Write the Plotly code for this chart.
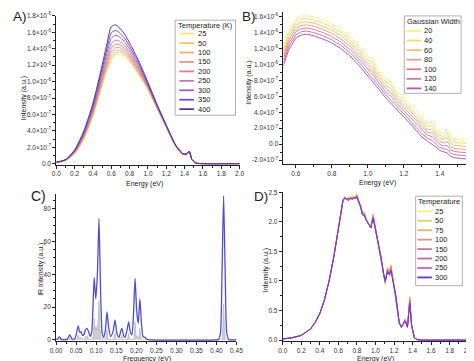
import plotly.graph_objects as go

W, H = 474, 361
FONT = "Liberation Sans, Arial, sans-serif"

# ---------------- Panel A data (Intensity vs Energy, temperatures) ----------------
a_energy = [0.0, 0.1, 0.2, 0.3, 0.4, 0.5, 0.55, 0.6, 0.65, 0.7, 0.75, 0.8, 0.9, 1.0,
            1.1, 1.2, 1.3, 1.34, 1.38, 1.42, 1.45, 1.48, 1.52, 1.6, 2.0]
a_temps = ["25", "50", "100", "150", "200", "250", "300", "350", "400"]
a_25 = [0.010, 0.040, 0.120, 0.300, 0.580, 0.950, 1.120, 1.250, 1.320, 1.330, 1.300, 1.240, 1.080, 0.900,
        0.670, 0.440, 0.220, 0.19, 0.12, 0.110, 0.140, 0.05, 0.01, 0.0, 0.0]
a_50 = [0.011, 0.041, 0.124, 0.308, 0.593, 0.970, 1.146, 1.284, 1.350, 1.355, 1.322, 1.258, 1.094, 0.907,
        0.674, 0.442, 0.221, 0.19, 0.12, 0.110, 0.140, 0.05, 0.01, 0.0, 0.0]
a_100 = [0.012, 0.042, 0.128, 0.316, 0.606, 0.990, 1.173, 1.317, 1.379, 1.380, 1.343, 1.277, 1.107, 0.914,
         0.678, 0.445, 0.222, 0.18, 0.12, 0.110, 0.140, 0.05, 0.01, 0.0, 0.0]
a_150 = [0.013, 0.043, 0.133, 0.326, 0.622, 1.015, 1.206, 1.359, 1.416, 1.411, 1.370, 1.300, 1.124, 0.923,
         0.683, 0.448, 0.223, 0.18, 0.12, 0.110, 0.145, 0.05, 0.01, 0.0, 0.0]
a_200 = [0.014, 0.044, 0.139, 0.337, 0.639, 1.043, 1.242, 1.405, 1.457, 1.445, 1.400, 1.325, 1.143, 0.933,
         0.689, 0.451, 0.224, 0.18, 0.12, 0.115, 0.145, 0.05, 0.01, 0.0, 0.0]
a_250 = [0.015, 0.045, 0.145, 0.350, 0.660, 1.075, 1.285, 1.460, 1.505, 1.485, 1.435, 1.355, 1.165, 0.945,
         0.695, 0.455, 0.225, 0.17, 0.12, 0.115, 0.150, 0.05, 0.01, 0.0, 0.0]
a_300 = [0.017, 0.047, 0.153, 0.366, 0.686, 1.115, 1.338, 1.527, 1.564, 1.535, 1.478, 1.392, 1.192, 0.959,
         0.703, 0.460, 0.226, 0.17, 0.12, 0.120, 0.150, 0.05, 0.01, 0.0, 0.0]
a_350 = [0.018, 0.048, 0.161, 0.382, 0.711, 1.155, 1.391, 1.594, 1.623, 1.584, 1.521, 1.429, 1.219, 0.974,
         0.711, 0.465, 0.228, 0.16, 0.12, 0.120, 0.150, 0.05, 0.01, 0.0, 0.0]
a_400 = [0.020, 0.050, 0.170, 0.400, 0.740, 1.200, 1.450, 1.670, 1.690, 1.640, 1.570, 1.470, 1.250, 0.990,
         0.720, 0.470, 0.230, 0.16, 0.12, 0.120, 0.150, 0.05, 0.01, 0.0, 0.0]
a_series = [a_25, a_50, a_100, a_150, a_200, a_250, a_300, a_350, a_400]
a_colors = ["#f6e87a", "#f2c86a", "#eeb07a", "#e8948a", "#d8808e", "#c07aa8", "#9a60c0", "#7a48b8", "#4c3896"]
a_yticks = [0.0, 0.2, 0.4, 0.6, 0.8, 1.0, 1.2, 1.4, 1.6, 1.8]
a_yticktext = ["0.0", "2.0×10<sup>-7</sup>", "4.0×10<sup>-7</sup>", "6.0×10<sup>-7</sup>", "8.0×10<sup>-7</sup>",
               "1.0×10<sup>-6</sup>", "1.2×10<sup>-6</sup>", "1.4×10<sup>-6</sup>", "1.6×10<sup>-6</sup>",
               "1.8×10<sup>-6</sup>"]

# ---------------- Panel B data (Gaussian width) ----------------
b_energy = [0.53, 0.56, 0.60, 0.63, 0.66, 0.70, 0.75, 0.80, 0.85, 0.90, 0.95, 1.00, 1.03, 1.05, 1.10, 1.13,
            1.15, 1.20, 1.25, 1.30, 1.33, 1.36, 1.38, 1.40, 1.42, 1.44, 1.46, 1.48, 1.52, 1.56, 1.60]
b_widths = ["20", "40", "60", "80", "100", "120", "140"]
b_20 = [1.22, 1.42, 1.57, 1.61, 1.61, 1.60, 1.56, 1.51, 1.44, 1.35, 1.23, 1.10, 1.06, 0.96, 0.82, 0.79,
        0.70, 0.58, 0.46, 0.35, 0.26, 0.28, 0.19, 0.15, 0.13, 0.19, 0.09, 0.06, 0.05, 0.045, 0.045]
b_40 = [1.18, 1.38, 1.53, 1.57, 1.572, 1.56, 1.52, 1.47, 1.40, 1.31, 1.19, 1.06, 1.012, 0.92, 0.78, 0.742,
        0.66, 0.54, 0.42, 0.306, 0.224, 0.232, 0.152, 0.112, 0.092, 0.138, 0.05, 0.022, 0.012, 0.006, 0.006]
b_60 = [1.14, 1.34, 1.49, 1.53, 1.534, 1.52, 1.48, 1.43, 1.36, 1.27, 1.15, 1.02, 0.964, 0.88, 0.74, 0.694,
        0.62, 0.50, 0.38, 0.262, 0.188, 0.184, 0.114, 0.074, 0.054, 0.086, 0.01, -0.016, -0.026, -0.033, -0.033]
b_80 = [1.10, 1.30, 1.45, 1.49, 1.496, 1.48, 1.44, 1.39, 1.32, 1.23, 1.11, 0.98, 0.916, 0.84, 0.70, 0.646,
        0.58, 0.46, 0.34, 0.218, 0.152, 0.136, 0.076, 0.036, 0.016, 0.034, -0.03, -0.054, -0.064, -0.072, -0.072]
b_100 = [1.06, 1.26, 1.41, 1.45, 1.458, 1.44, 1.40, 1.35, 1.28, 1.19, 1.07, 0.94, 0.87, 0.80, 0.66, 0.60,
         0.54, 0.42, 0.30, 0.175, 0.115, 0.09, 0.038, -0.003, -0.023, -0.015, -0.07, -0.093, -0.103, -0.111, -0.111]
b_120 = [1.02, 1.22, 1.37, 1.41, 1.419, 1.40, 1.36, 1.31, 1.24, 1.15, 1.03, 0.90, 0.824, 0.76, 0.62, 0.554,
         0.50, 0.38, 0.26, 0.132, 0.078, 0.044, -0.001, -0.041, -0.061, -0.064, -0.11, -0.131, -0.141, -0.15, -0.15]
b_140 = [0.98, 1.18, 1.33, 1.37, 1.38, 1.36, 1.32, 1.27, 1.20, 1.11, 0.99, 0.86, 0.78, 0.72, 0.58, 0.51,
         0.46, 0.34, 0.22, 0.09, 0.04, 0.00, -0.04, -0.08, -0.10, -0.11, -0.15, -0.17, -0.18, -0.19, -0.19]
b_series = [b_20, b_40, b_60, b_80, b_100, b_120, b_140]
b_colors = ["#f8f080", "#f2dc6c", "#f0c07a", "#e8a08a", "#d88090", "#c878b0", "#a860b8"]
b_yticks = [-0.2, 0.0, 0.2, 0.4, 0.6, 0.8, 1.0, 1.2, 1.4, 1.6]
b_yticktext = ["-2.0×10<sup>-7</sup>", "0.0", "2.0×10<sup>-7</sup>", "4.0×10<sup>-7</sup>", "6.0×10<sup>-7</sup>",
               "8.0×10<sup>-7</sup>", "1.0×10<sup>-6</sup>", "1.2×10<sup>-6</sup>", "1.4×10<sup>-6</sup>",
               "1.6×10<sup>-6</sup>"]

# ---------------- Panel C data (IR spectrum) ----------------
c_freq = [0.000, 0.004, 0.008, 0.012, 0.018, 0.028, 0.034, 0.040, 0.047, 0.051, 0.055, 0.059, 0.062, 0.066,
          0.070, 0.073, 0.077, 0.081, 0.085, 0.089, 0.092, 0.095, 0.099, 0.103, 0.107, 0.111, 0.115, 0.119,
          0.123, 0.127, 0.131, 0.136, 0.142, 0.147, 0.152, 0.157, 0.161, 0.164, 0.168, 0.172, 0.177, 0.181,
          0.185, 0.189, 0.193, 0.197, 0.201, 0.205, 0.209, 0.213, 0.217, 0.222, 0.226, 0.235, 0.400, 0.405,
          0.410, 0.414, 0.418, 0.422, 0.426, 0.431, 0.450]
c_ir = [0.3, 0.5, 2.0, 0.4, 0.1, 0.4, 3.0, 0.4, 0.8, 4.0, 8.5, 4.5, 5.0, 2.5,
        3.5, 6.0, 7.0, 5.0, 2.0, 5.0, 20.0, 38.0, 25.0, 40.0, 74.0, 30.0, 4.0, 1.5,
        6.0, 17.0, 8.0, 2.0, 5.0, 12.0, 3.5, 1.5, 5.0, 7.0, 3.0, 1.5, 6.0, 11.0,
        5.0, 3.0, 15.0, 37.5, 18.0, 10.0, 25.0, 10.0, 2.0, 1.5, 0.3, 0.0, 0.0, 0.2,
        4.0, 40.0, 88.0, 40.0, 4.0, 0.2, 0.0]
c_stick_freq = [0.0, 0.006, 0.008, 0.010, 0.032, 0.034, 0.036, 0.052, 0.055, 0.058, 0.062, 0.065, 0.070, 0.073,
                0.076, 0.078, 0.081, 0.090, 0.093, 0.095, 0.097, 0.099, 0.102, 0.105, 0.107, 0.109, 0.112,
                0.124, 0.127, 0.130, 0.144, 0.147, 0.150, 0.162, 0.164, 0.166, 0.178, 0.181, 0.184, 0.194,
                0.197, 0.200, 0.203, 0.206, 0.209, 0.212, 0.220, 0.222, 0.224, 0.414, 0.416, 0.418, 0.420,
                0.422, 0.450]
c_stick_ir = [0, 0, 0.5, 0, 0, 1, 0, 0, 3, 0.8, 1.5, 0.3, 0.3, 2,
              1.5, 2.5, 0.3, 0.3, 4, 13, 6, 8, 6, 12, 24, 8, 0.5,
              0.3, 6, 0.3, 0.3, 4, 0.3, 0.3, 2.5, 0.3, 0.3, 4, 0.3, 0.3,
              11, 2, 2, 1, 7, 0.3, 0, 0.5, 0, 0, 8, 22, 8,
              0, 0]

# ---------------- Panel D data (temperature) ----------------
d_energy = [0.0, 0.1, 0.2, 0.3, 0.35, 0.4, 0.45, 0.5, 0.55, 0.6, 0.63, 0.65, 0.67, 0.69, 0.71, 0.73, 0.75,
            0.77, 0.79, 0.80, 0.82, 0.84, 0.86, 0.88, 0.90, 0.92, 0.95, 0.975, 1.0, 1.03, 1.06, 1.09, 1.105,
            1.13, 1.15, 1.167, 1.19, 1.22, 1.256, 1.28, 1.32, 1.345, 1.37, 1.39, 1.42, 1.45, 1.5, 1.6, 2.0]
d_temps = ["25", "50", "75", "100", "150", "200", "250", "300"]
d_25 = [0.02, 0.04, 0.08, 0.19, 0.30, 0.45, 0.68, 1.00, 1.40, 1.90, 2.22, 2.38, 2.43, 2.39, 2.42, 2.40, 2.44,
        2.41, 2.45, 2.47, 2.36, 2.28, 2.14, 2.17, 2.05, 1.99, 1.91, 2.14, 1.90, 1.64, 1.42, 1.08, 0.94,
        1.24, 1.13, 1.28, 1.02, 0.76, 0.28, 0.21, 0.36, 0.22, 0.75, 0.24, 0.04, 0.01, 0.0, 0.0, 0.0]
d_50 = [0.02, 0.04, 0.08, 0.19, 0.30, 0.45, 0.68, 1.00, 1.40, 1.90, 2.22, 2.38, 2.43, 2.39, 2.42, 2.40, 2.43,
        2.41, 2.44, 2.46, 2.36, 2.28, 2.14, 2.16, 2.05, 1.99, 1.91, 2.13, 1.90, 1.64, 1.42, 1.08, 0.95,
        1.23, 1.13, 1.27, 1.02, 0.76, 0.28, 0.21, 0.36, 0.22, 0.74, 0.24, 0.04, 0.01, 0.0, 0.0, 0.0]
d_75 = [0.02, 0.04, 0.08, 0.19, 0.30, 0.45, 0.68, 1.00, 1.40, 1.90, 2.22, 2.37, 2.42, 2.39, 2.41, 2.40, 2.42,
        2.41, 2.44, 2.46, 2.35, 2.27, 2.13, 2.15, 2.04, 1.99, 1.91, 2.12, 1.89, 1.63, 1.41, 1.09, 0.96,
        1.22, 1.12, 1.26, 1.02, 0.75, 0.29, 0.21, 0.35, 0.22, 0.72, 0.24, 0.04, 0.01, 0.0, 0.0, 0.0]
d_100 = [0.02, 0.04, 0.08, 0.19, 0.30, 0.45, 0.68, 1.00, 1.40, 1.90, 2.22, 2.37, 2.42, 2.38, 2.40, 2.40, 2.41,
         2.40, 2.43, 2.45, 2.35, 2.27, 2.13, 2.14, 2.04, 1.99, 1.91, 2.11, 1.89, 1.63, 1.41, 1.09, 0.97,
         1.21, 1.12, 1.25, 1.01, 0.75, 0.29, 0.21, 0.35, 0.22, 0.70, 0.25, 0.04, 0.01, 0.0, 0.0, 0.0]
d_150 = [0.02, 0.04, 0.08, 0.19, 0.30, 0.45, 0.68, 1.00, 1.40, 1.90, 2.22, 2.36, 2.41, 2.38, 2.39, 2.40, 2.40,
         2.40, 2.42, 2.44, 2.34, 2.26, 2.13, 2.13, 2.04, 1.98, 1.90, 2.09, 1.89, 1.63, 1.41, 1.09, 0.98,
         1.19, 1.11, 1.23, 1.01, 0.75, 0.29, 0.22, 0.34, 0.22, 0.68, 0.25, 0.04, 0.01, 0.0, 0.0, 0.0]
d_200 = [0.02, 0.04, 0.08, 0.19, 0.30, 0.45, 0.68, 1.00, 1.40, 1.90, 2.22, 2.36, 2.41, 2.38, 2.38, 2.40, 2.39,
         2.40, 2.41, 2.43, 2.34, 2.26, 2.12, 2.12, 2.03, 1.98, 1.90, 2.08, 1.88, 1.62, 1.40, 1.10, 0.99,
         1.18, 1.11, 1.21, 1.00, 0.74, 0.30, 0.22, 0.33, 0.22, 0.66, 0.25, 0.04, 0.01, 0.0, 0.0, 0.0]
d_250 = [0.02, 0.04, 0.08, 0.19, 0.30, 0.45, 0.68, 1.00, 1.40, 1.90, 2.22, 2.36, 2.40, 2.38, 2.37, 2.40, 2.38,
         2.41, 2.40, 2.42, 2.33, 2.25, 2.12, 2.11, 2.03, 1.98, 1.90, 2.07, 1.88, 1.62, 1.40, 1.10, 1.00,
         1.17, 1.10, 1.19, 1.00, 0.74, 0.30, 0.22, 0.33, 0.22, 0.64, 0.25, 0.04, 0.01, 0.0, 0.0, 0.0]
d_300 = [0.02, 0.04, 0.08, 0.19, 0.30, 0.45, 0.68, 1.00, 1.40, 1.90, 2.22, 2.36, 2.40, 2.38, 2.36, 2.40, 2.38,
         2.41, 2.39, 2.42, 2.33, 2.25, 2.12, 2.10, 2.03, 1.98, 1.90, 2.06, 1.88, 1.62, 1.40, 1.10, 1.00,
         1.16, 1.10, 1.18, 1.00, 0.74, 0.30, 0.22, 0.32, 0.22, 0.62, 0.25, 0.04, 0.01, 0.0, 0.0, 0.0]
d_series = [d_25, d_50, d_75, d_100, d_150, d_200, d_250, d_300]
d_colors = ["#f6f07a", "#e0d070", "#e6b278", "#d8968a", "#d07a92", "#c06aa6", "#c060e0", "#6a38c0"]


def px(x):
    return x / W


def py(y):
    return 1 - y / H


fig = go.Figure()

# Panel A traces
for name, ys, col in zip(a_temps, a_series, a_colors):
    fig.add_trace(go.Scatter(x=a_energy, y=[v * 1e-6 for v in ys], mode="lines", name=name,
                             line=dict(color=col, width=1, shape="spline", smoothing=0.7),
                             xaxis="x", yaxis="y", showlegend=False))
# Panel B traces
for name, ys, col in zip(b_widths, b_series, b_colors):
    fig.add_trace(go.Scatter(x=b_energy, y=[v * 1e-6 for v in ys], mode="lines", name=name,
                             line=dict(color=col, width=1),
                             xaxis="x2", yaxis="y2", showlegend=False))
# Panel C traces
fig.add_trace(go.Scatter(x=c_stick_freq, y=c_stick_ir, mode="lines", fill="tozeroy",
                         fillcolor="#cdcdcd", line=dict(color="#b0b0b0", width=0.6),
                         xaxis="x3", yaxis="y3", showlegend=False))
fig.add_trace(go.Scatter(x=c_freq, y=c_ir, mode="lines",
                         line=dict(color="#4e4ed2", width=1.3, shape="spline", smoothing=0.6),
                         xaxis="x3", yaxis="y3", showlegend=False))
# Panel D traces
for name, ys, col in zip(d_temps, d_series, d_colors):
    fig.add_trace(go.Scatter(x=d_energy, y=ys, mode="lines", name=name,
                             line=dict(color=col, width=1),
                             xaxis="x4", yaxis="y4", showlegend=False))

axis_common = dict(showline=True, linecolor="#222", linewidth=1, ticks="outside", ticklen=3,
                   tickwidth=0.8, tickcolor="#222", showgrid=False, zeroline=False,
                   tickfont=dict(size=6.5, color="#333", family=FONT), mirror=False)

fig.update_layout(
    width=W, height=H, margin=dict(l=0, r=0, t=0, b=0),
    paper_bgcolor="white", plot_bgcolor="white", showlegend=False,
    font=dict(family=FONT, color="#222"),
    xaxis=dict(axis_common, domain=[px(43.5), px(232)], range=[0, 2.0], anchor="y",
               tickvals=[0, 0.2, 0.4, 0.6, 0.8, 1.0, 1.2, 1.4, 1.6, 1.8, 2.0], tickformat=".1f",
               minor=dict(ticks="outside", ticklen=2, dtick=0.1, tick0=0, tickcolor="#222")),
    yaxis=dict(axis_common, domain=[py(155.1), py(4)], range=[-0.0096e-6, 1.8e-6], anchor="x",
               tickvals=[v * 1e-6 for v in a_yticks], ticktext=a_yticktext,
               minor=dict(ticks="outside", ticklen=2, dtick=1e-7, tick0=0, tickcolor="#222")),
    xaxis2=dict(axis_common, domain=[px(277), 1.0], range=[0.531, 1.596], anchor="y2",
                tickvals=[0.6, 0.8, 1.0, 1.2, 1.4, 1.6], tickformat=".1f",
                minor=dict(ticks="outside", ticklen=2, dtick=0.1, tick0=0, tickcolor="#222")),
    yaxis2=dict(axis_common, domain=[py(155), 1.0], range=[-2.55e-7, 1.658e-6], anchor="x2",
                tickvals=[v * 1e-6 for v in b_yticks], ticktext=b_yticktext,
                minor=dict(ticks="outside", ticklen=2, dtick=1e-7, tick0=0, tickcolor="#222")),
    xaxis3=dict(axis_common, domain=[px(43.3), px(228.7)], range=[0, 0.45], anchor="y3",
                tickvals=[0, 0.05, 0.1, 0.15, 0.2, 0.25, 0.3, 0.35, 0.4, 0.45], tickformat=".2f",
                minor=dict(ticks="outside", ticklen=2, dtick=0.025, tick0=0, tickcolor="#222")),
    yaxis3=dict(axis_common, domain=[py(335), py(185)], range=[-1.0, 89.1], anchor="x3",
                tickvals=[0, 20, 40, 60, 80],
                minor=dict(ticks="outside", ticklen=2, dtick=5, tick0=0, tickcolor="#222")),
    xaxis4=dict(axis_common, domain=[px(276.3), px(467)], range=[0, 2.0], anchor="y4",
                tickvals=[0, 0.2, 0.4, 0.6, 0.8, 1.0, 1.2, 1.4, 1.6, 1.8, 2.0], tickformat=".1f",
                minor=dict(ticks="outside", ticklen=2, dtick=0.1, tick0=0, tickcolor="#222")),
    yaxis4=dict(axis_common, domain=[py(335), py(183.3)], range=[-0.0216, 2.5], anchor="x4",
                tickvals=[0, 0.5, 1.0, 1.5, 2.0, 2.5], tickformat=".1f",
                minor=dict(ticks="outside", ticklen=2, dtick=0.25, tick0=0, tickcolor="#222")),
)

annotations = []
shapes = []


def text(x, y, s, size=7, xanchor="center", yanchor="middle", angle=0, color="#222"):
    annotations.append(dict(x=px(x), y=py(y), xref="paper", yref="paper", text=s, showarrow=False,
                            xanchor=xanchor, yanchor=yanchor, textangle=angle, borderpad=0,
                            font=dict(size=size, color=color, family=FONT)))


# Panel labels
text(6.5, 5, "A)", size=13.5)
text(242, 5, "B)", size=13.5)
text(25, 187, "C)", size=14)
text(254, 188, "D)", size=13.5)

# Axis titles
text(133.7, 174.5, "Energy (eV)")
text(10, 88, "Intensity (a.u.)", angle=-90)
text(373.7, 173.5, "Energy (eV)")
text(241.5, 72, "Intensity (a.u.)", angle=-90)
text(136.7, 352.5, "Frequency (eV)")
text(28.3, 261.7, "IR Intensity (a.u.)", angle=-90)
text(372, 352.5, "Energy (eV)")
text(258.7, 263, "Intensity (a.u.)", angle=-90)


def legend(box, title, title_y, names, colors, y0, dy, lx0, lx1, tx):
    x0, y0b, x1, y1b = box
    shapes.append(dict(type="rect", xref="paper", yref="paper", x0=px(x0), y0=py(y1b), x1=px(x1), y1=py(y0b),
                       line=dict(color="#9a9a9a", width=0.8), fillcolor="white", layer="above"))
    text(x0 + 1.5, title_y, title, size=7.5, xanchor="left")
    for i, (n, c) in enumerate(zip(names, colors)):
        yy = y0 + dy * i
        shapes.append(dict(type="line", xref="paper", yref="paper", x0=px(lx0), x1=px(lx1), y0=py(yy), y1=py(yy),
                           line=dict(color=c, width=1.8), layer="above"))
        text(tx, yy, n, size=7.5, xanchor="left")


legend((165.7, 8.3, 227.7, 105), "Temperature (K)", 13.3, a_temps, a_colors, 22, 9.6, 170, 185, 188)
legend((401.3, 4, 459.7, 82.7), "Gaussian Width", 9.3, b_widths, b_colors, 19.3, 9.73, 403.7, 418.7, 421)
legend((413, 187.3, 461, 278.3), "Temperature", 192.7, d_temps, d_colors, 202.7, 9.6, 414.7, 429.7, 432)

fig.update_layout(annotations=annotations, shapes=shapes)
fig.write_html("out.html")
